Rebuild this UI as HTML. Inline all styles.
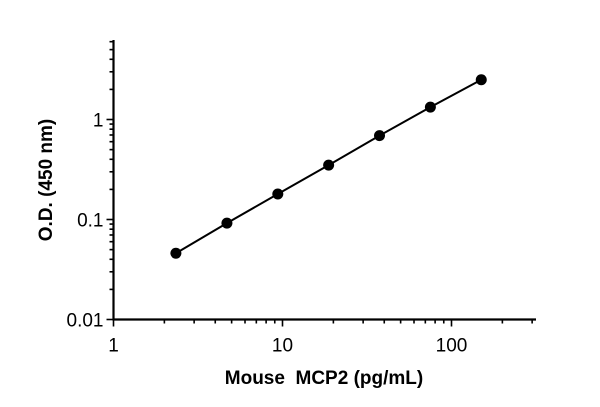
<!DOCTYPE html>
<html><head><meta charset="utf-8"><style>
body{margin:0;background:#fff;}
svg{display:block;font-family:"Liberation Sans",Arial,sans-serif;}
</style></head><body>
<svg id="chart" width="600" height="407"></svg>
<script>
const concentrations = [2.34, 4.69, 9.38, 18.75, 37.5, 75, 150];
const odValues = [0.046, 0.092, 0.18, 0.35, 0.69, 1.33, 2.5];
const xTickLabels = ["1", "10", "100"];
const yTickLabels = ["0.01", "0.1", "1"];
const NS = "http://www.w3.org/2000/svg";
const svg = document.getElementById("chart");
const X0 = 113.5, XD = 169, Y0 = 319.5, YD = 100;
function xs(v){ return X0 + Math.log10(v) * XD; }
function ys(v){ return Y0 - (Math.log10(v) + 2) * YD; }
function mk(tag, attrs, name){
  const e = document.createElementNS(NS, tag);
  for (const k in attrs) e.setAttribute(k, attrs[k]);
  
  
  svg.appendChild(e);
  return e;
}
mk('line',{x1:X0,y1:40,x2:X0,y2:Y0+1,stroke:'#000','stroke-width':2.2},'y-axis');
mk('line',{x1:X0-1,y1:Y0,x2:536,y2:Y0,stroke:'#000','stroke-width':2.2},'x-axis');
for (let d = -2; d <= 0; d++) {
  for (let m = 1; m <= 9; m++) {
    const v = m * Math.pow(10, d);
    const y = ys(v);
    if (y < 39.5) continue;
    const len = m === 1 ? 7 : 4;
    mk('line',{x1:X0-len,y1:y,x2:X0,y2:y,stroke:'#000','stroke-width':1.6},'y-tick');
  }
}
yTickLabels.forEach(function(t){
  const e = mk('text',{x:X0-10,y:ys(parseFloat(t))+7,'text-anchor':'end','font-size':19},'y-tick-label');
  e.textContent = t;
});
for (let d = 0; d <= 2; d++) {
  for (let m = 1; m <= 9; m++) {
    const v = m * Math.pow(10, d);
    const x = xs(v);
    if (x > 536) continue;
    const len = m === 1 ? 7 : 4;
    mk('line',{x1:x,y1:Y0,x2:x,y2:Y0+len,stroke:'#000','stroke-width':1.6},'x-tick');
  }
}
xTickLabels.forEach(function(t){
  const e = mk('text',{x:xs(parseFloat(t)),y:Y0+32,'text-anchor':'middle','font-size':19},'x-tick-label');
  e.textContent = t;
});
let d = '';
concentrations.forEach(function(c,i){ d += (i ? 'L' : 'M') + xs(c) + ' ' + ys(odValues[i]); });
mk('path',{d:d,fill:'none',stroke:'#000','stroke-width':2},'fit-line');
concentrations.forEach(function(c,i){
  mk('circle',{cx:xs(c),cy:ys(odValues[i]),r:5.5,fill:'#000'},'data-point');
});
const xt = mk('text',{x:324,y:384,'text-anchor':'middle','font-size':19,'font-weight':'bold',style:'white-space:pre'},'x-axis-title');
xt.textContent = 'Mouse  MCP2 (pg/mL)';
const yt = mk('text',{x:0,y:0,'text-anchor':'middle','font-size':19,'font-weight':'bold',transform:'translate(52,180) rotate(-90)'},'y-axis-title');
yt.textContent = 'O.D. (450 nm)';
</script>
</body></html>
